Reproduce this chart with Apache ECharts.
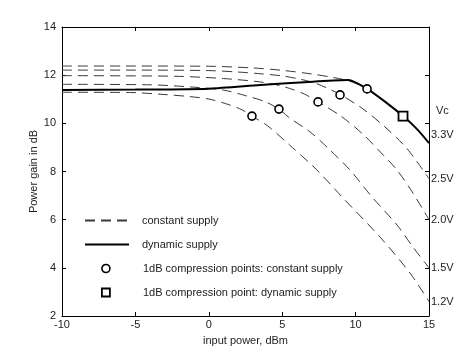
<!DOCTYPE html>
<html>
<head>
<meta charset="utf-8">
<script src="https://cdn.jsdelivr.net/npm/echarts@6/dist/echarts.min.js"></script>
<style>html,body{margin:0;padding:0;background:#fff;}#c{width:474px;height:355px;}</style>
</head>
<body>
<div id="c"></div>
<script>
// Constant-supply curves (gain in dB vs input power in dBm), one per collector voltage
const vcLabels = ['3.3V', '2.5V', '2.0V', '1.5V', '1.2V'];
const vc33 = [[-10,12.38],[-5,12.38],[0,12.37],[3,12.3],[5,12.2],[7,12.05],[8.5,11.9],[9.6,11.75],[10.78,11.43],[12,10.9],[13.23,10.30],[14.2,9.75],[15,9.18]];
const vc25 = [[-10,12.21],[-5,12.21],[0,12.19],[2,12.13],[3.5,12.06],[5,11.97],[6,11.86],[7.1,11.70],[8,11.48],[8.94,11.2],[10.5,10.6],[12,9.85],[13.5,8.95],[15,7.7]];
const vc20 = [[-10,11.98],[-5,11.97],[-2,11.95],[1,11.86],[3.5,11.72],[4.6,11.6],[5.5,11.45],[6.5,11.22],[7.44,10.89],[9,10.3],[10.5,9.55],[11.7,8.8],[12.82,8.06],[13.91,7.1],[15,6.0]];
const vc15 = [[-10,11.62],[-4,11.6],[-1,11.5],[1,11.38],[2.5,11.15],[3.83,10.9],[4.78,10.59],[5.53,10.21],[6.89,9.65],[8.26,8.89],[9.62,8.06],[11.12,6.94],[12.82,5.78],[13.91,4.86],[15,4.0]];
const vc12 = [[-10,11.29],[-5.4,11.28],[-3.1,11.2],[-1.3,11.11],[0.08,11.0],[1.44,10.76],[2.3,10.55],[2.94,10.3],[4,9.9],[5.5,9.1],[7.37,8.06],[9.14,6.9],[11.66,5.28],[13.71,3.78],[15,2.6]];
const constantCurves = [vc33, vc25, vc20, vc15, vc12];
// Dynamic supply curve
const dynamic = [[-10,11.38],[-5,11.40],[0,11.44],[3.5,11.59],[7.1,11.73],[9.5,11.8],[10.78,11.43],[12,10.9],[13.23,10.30],[14.2,9.75],[15,9.18]];
// 1 dB compression points
const compConst = [[2.94,10.30],[4.78,10.59],[7.44,10.89],[8.94,11.18],[10.78,11.43]];
const compDyn = [[13.23,10.30]];
const xTicks = [-10, -5, 0, 5, 10, 15];
const yTicks = [2, 4, 6, 8, 10, 12, 14];

const FONT = 'Liberation Sans, Arial, sans-serif';
const chart = echarts.init(document.getElementById('c'), null, {renderer: 'canvas'});

const series = constantCurves.map((d, i) => ({
  name: 'constant supply',
  type: 'line',
  data: d,
  symbol: 'none',
  smooth: 0.3,
  z: 2,
  color: '#3a3a3a',
  lineStyle: {color: '#3a3a3a', width: 1, type: [10, 6]},
  endLabel: {
    show: true,
    formatter: vcLabels[i],
    color: '#222',
    fontFamily: FONT,
    fontSize: 11,
    distance: 2,
    offset: i === 0 ? [0, -8] : [0, 0]
  },
  emphasis: {disabled: true},
  silent: true
}));
series.push({
  name: 'dynamic supply', type: 'line', data: dynamic, symbol: 'none', smooth: 0.25, z: 5,
  color: '#000',
  lineStyle: {color: '#000', width: 2}, silent: true
});
series.push({
  name: '1dB compression points: constant supply', type: 'scatter', data: compConst,
  symbol: 'circle', symbolSize: 8, z: 6,
  itemStyle: {color: '#fff', borderColor: '#000', borderWidth: 1.6, opacity: 1}, silent: true
});
series.push({
  name: '1dB compression point: dynamic supply', type: 'scatter', data: compDyn,
  symbol: 'rect', symbolSize: 9, z: 6,
  itemStyle: {color: '#fff', borderColor: '#000', borderWidth: 1.8, opacity: 1}, silent: true
});

const axisCommon = {
  axisLine: {show: true, onZero: false, lineStyle: {color: '#000', width: 1}},
  axisTick: {show: true, inside: true, length: 4, lineStyle: {color: '#000'}},
  splitLine: {show: false}
};

chart.setOption({
  animation: false,
  backgroundColor: '#fff',
  textStyle: {fontFamily: FONT},
  grid: {left: 62, right: 45, top: 27, bottom: 39},
  xAxis: [
    Object.assign({
      type: 'value', min: xTicks[0], max: xTicks[xTicks.length - 1], interval: 5, position: 'bottom',
      name: 'input power, dBm', nameLocation: 'middle', nameGap: 19, nameMoveOverlap: false,
      nameTextStyle: {color: '#222', fontSize: 11, fontFamily: FONT},
      axisLabel: {color: '#222', fontSize: 11, fontFamily: FONT, margin: 3}
    }, axisCommon),
    Object.assign({
      type: 'value', min: xTicks[0], max: xTicks[xTicks.length - 1], interval: 5, position: 'top',
      axisLabel: {show: false}
    }, axisCommon)
  ],
  yAxis: [
    Object.assign({
      type: 'value', min: yTicks[0], max: yTicks[yTicks.length - 1], interval: 2, position: 'left',
      name: 'Power gain in dB', nameLocation: 'middle', nameGap: 23, nameMoveOverlap: false,
      nameTextStyle: {color: '#222', fontSize: 11, fontFamily: FONT},
      axisLabel: {color: '#222', fontSize: 11, fontFamily: FONT, margin: 6}
    }, axisCommon),
    Object.assign({
      type: 'value', min: yTicks[0], max: yTicks[yTicks.length - 1], interval: 2, position: 'right',
      axisLabel: {show: false}
    }, axisCommon)
  ],
  legend: [{
    orient: 'vertical', left: 84, top: 215, padding: 0,
    itemWidth: 44, itemHeight: 9, itemGap: 13,
    data: [
      {name: 'constant supply', itemStyle: {opacity: 0}},
      {name: 'dynamic supply', itemStyle: {opacity: 0}}
    ],
    textStyle: {color: '#222', fontSize: 11, fontFamily: FONT, padding: [0, 0, 0, 8]},
    selectedMode: false
  }, {
    orient: 'vertical', left: 101, top: 263, padding: 0,
    itemWidth: 8, itemHeight: 8, itemGap: 13,
    data: [
      {name: '1dB compression points: constant supply', icon: 'circle',
        itemStyle: {color: '#fff', borderColor: '#000', borderWidth: 1.6, opacity: 1}},
      {name: '1dB compression point: dynamic supply', icon: 'rect',
        itemStyle: {color: '#fff', borderColor: '#000', borderWidth: 1.8, opacity: 1}}
    ],
    textStyle: {color: '#222', fontSize: 11, fontFamily: FONT, padding: [0, 0, 0, 28]},
    selectedMode: false
  }],
  graphic: [{
    type: 'text', left: 436, top: 105,
    style: {text: 'Vc', fill: '#222', font: '11px ' + FONT}
  }],
  series: series
});
</script>
</body>
</html>
